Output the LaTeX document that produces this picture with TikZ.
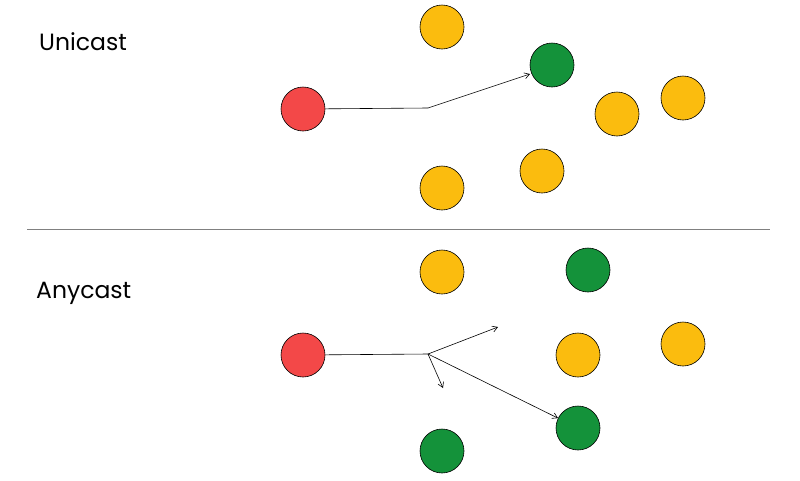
\documentclass[tikz,border=0pt]{standalone}
\usepackage{fontspec}
\usetikzlibrary{arrows.meta}
\setmainfont{Poppins}
\definecolor{cy}{HTML}{FBBC0E}
\definecolor{cg}{HTML}{14923A}
\definecolor{cr}{HTML}{F34848}
\begin{document}
\begin{tikzpicture}[x=1pt,y=-1pt,
 dot/.style={circle,draw=black,line width=0.6pt,minimum size=44pt,inner sep=0pt},
 y1/.style={dot,fill=cy}, g1/.style={dot,fill=cg}, r1/.style={dot,fill=cr},
 lab/.style={font=\fontsize{23.5}{28}\selectfont,anchor=west,inner sep=0pt},
 arr/.style={-{Straight Barb[length=5pt,width=6pt]},line width=0.6pt}]
\useasboundingbox (0,0) rectangle (800,480);
\node[lab] (t1) at (39,42) {Unicast};
\node[lab] (t2) at (36,293) {Anycast};
\node[r1] (ra) at (303,109) {};
\node[y1] (a1) at (442,27) {};
\node[g1] (a2) at (552,65) {};
\node[y1] (a3) at (617,114) {};
\node[y1] (a4) at (683,98) {};
\node[y1] (a5) at (542,171) {};
\node[y1] (a6) at (442,188) {};
\coordinate (ja) at (428,108);
\draw[line width=0.6pt] (ra) -- (ja);
\draw[arr] (ja) -- (530,74);
\coordinate (s1) at (27,229); \coordinate (s2) at (770,229);
\draw[gray,line width=0.6pt] (s1) -- (s2);
\node[r1] (rb) at (303,355) {};
\node[y1] (b1) at (442,272) {};
\node[g1] (b2) at (588,270) {};
\node[y1] (b3) at (578,355) {};
\node[y1] (b4) at (683,344) {};
\node[g1] (b5) at (578,428) {};
\node[g1] (b6) at (442,451) {};
\coordinate (jb) at (428,354);
\coordinate (e1) at (498,327);
\coordinate (e2) at (443,388);
\draw[line width=0.6pt] (rb) -- (jb);
\draw[arr] (jb) -- (e1);
\draw[arr] (jb) -- (e2);
\draw[arr] (jb) -- (b5);
\end{tikzpicture}
\end{document}
